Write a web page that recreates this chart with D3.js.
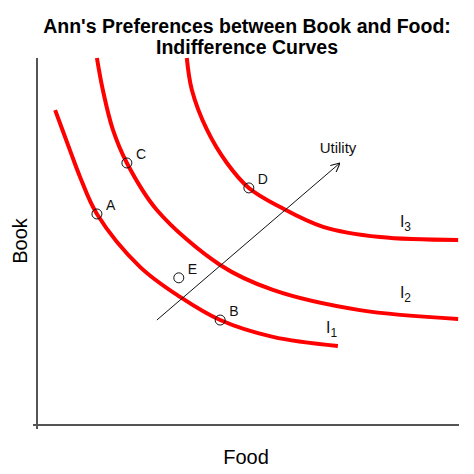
<!DOCTYPE html>
<html>
<head>
<meta charset="utf-8">
<script src="https://cdn.jsdelivr.net/npm/d3@7"></script>
<style>
  body { margin: 0; background: #fff; }
  text { font-family: Arial, "Liberation Sans", sans-serif; }
</style>
</head>
<body>
<div id="chart"></div>
<script>
// Curves, in Food / Book units (0-100)
const curveNames = ["I1", "I2", "I3"];
const i1 = [[4.3, 85.8], [7.8, 74.9], [10.2, 67.6], [14.2, 57.5], [24.4, 43.1], [33.9, 34.9], [43.4, 28.6], [55.9, 24.0], [71.3, 21.5]];
const i2 = [[14.2, 100], [15.6, 91.3], [18.0, 80.4], [21.3, 71.4], [28.4, 58.6], [43.4, 43.6], [55.9, 36.8], [76.5, 31.3], [99.8, 28.9]];
const i3 = [[35.5, 100], [36.7, 91.3], [40.3, 80.4], [45.0, 71.4], [50.2, 64.6], [57.6, 59.4], [67.8, 54.0], [81.3, 51.2], [99.8, 50.4]];
const curveLabelPos = [[68.5, 25], [86, 34.5], [86, 54]];

const pointNames = ["A", "C", "D", "E", "B"];
const pointFood = [14.2, 21.3, 50.2, 33.6, 43.4];
const pointBook = [57.5, 71.4, 64.6, 40.1, 28.6];

const utilityFrom = [28.4, 28.6];
const utilityTo = [71.8, 71.4];

const width = 474, height = 474;
const svg = d3.select("#chart").append("svg")
  .attr("width", width).attr("height", height);

const x = d3.scaleLinear().domain([0, 100]).range([37, 459]);
const y = d3.scaleLinear().domain([0, 100]).range([425, 58]);

// Title
svg.append("text").attr("x", 247).attr("y", 33).attr("text-anchor", "middle")
  .attr("font-size", 19.5).attr("font-weight", "bold")
  .text("Ann's Preferences between Book and Food:");
svg.append("text").attr("x", 247).attr("y", 54).attr("text-anchor", "middle")
  .attr("font-size", 19.5).attr("font-weight", "bold")
  .text("Indifference Curves");

// Axes (plain lines, no ticks)
svg.append("line").attr("x1", x(0)).attr("x2", x(0)).attr("y1", y(100)).attr("y2", y(0) + 4)
  .attr("stroke", "#555").attr("stroke-width", 2);
svg.append("line").attr("x1", x(0) - 4).attr("x2", x(100)).attr("y1", y(0)).attr("y2", y(0))
  .attr("stroke", "#555").attr("stroke-width", 2);

svg.append("text").attr("x", 246).attr("y", 464).attr("text-anchor", "middle")
  .attr("font-size", 20).text("Food");
svg.append("text").attr("transform", "translate(27,241) rotate(-90)")
  .attr("text-anchor", "middle").attr("font-size", 20).text("Book");

// Indifference curves
const line = d3.line().x(d => x(d[0])).y(d => y(d[1])).curve(d3.curveCatmullRom);
svg.selectAll(".curve").data([i1, i2, i3]).enter().append("path")
  .attr("class", "curve")
  .attr("d", line)
  .attr("fill", "none").attr("stroke", "#f00").attr("stroke-width", 4);

// Curve labels with subscripts
curveNames.forEach((n, i) => {
  const t = svg.append("text").attr("x", x(curveLabelPos[i][0])).attr("y", y(curveLabelPos[i][1]))
    .attr("font-size", 16).attr("fill", "#111");
  t.append("tspan").text(n[0]);
  t.append("tspan").attr("dy", 4).attr("font-size", 12).text(n.slice(1));
});

// Utility arrow
svg.append("defs").append("marker").attr("id", "arr")
  .attr("viewBox", "0 0 10 10").attr("refX", 10).attr("refY", 5)
  .attr("markerWidth", 9).attr("markerHeight", 9).attr("orient", "auto")
  .append("path").attr("d", "M0,0 L10,5 L0,10").attr("fill", "none").attr("stroke", "#111").attr("stroke-width", 1.2);
svg.append("line")
  .attr("x1", x(utilityFrom[0])).attr("y1", y(utilityFrom[1]))
  .attr("x2", x(utilityTo[0])).attr("y2", y(utilityTo[1]))
  .attr("stroke", "#111").attr("stroke-width", 1)
  .attr("marker-end", "url(#arr)");
svg.append("text").attr("x", x(utilityTo[0]) - 2).attr("y", y(utilityTo[1]) - 10)
  .attr("text-anchor", "middle").attr("font-size", 15).attr("fill", "#111").text("Utility");

// Bundles
const pts = pointNames.map((n, i) => ({ n, f: pointFood[i], b: pointBook[i] }));
svg.selectAll(".pt").data(pts).enter().append("circle")
  .attr("class", "pt")
  .attr("cx", d => x(d.f)).attr("cy", d => y(d.b)).attr("r", 5)
  .attr("fill", "none").attr("stroke", "#111").attr("stroke-width", 1);
svg.selectAll(".ptl").data(pts).enter().append("text")
  .attr("class", "ptl")
  .attr("x", d => x(d.f) + 9).attr("y", d => y(d.b) - 4)
  .attr("font-size", 14).attr("fill", "#111").text(d => d.n);
</script>
</body>
</html>
